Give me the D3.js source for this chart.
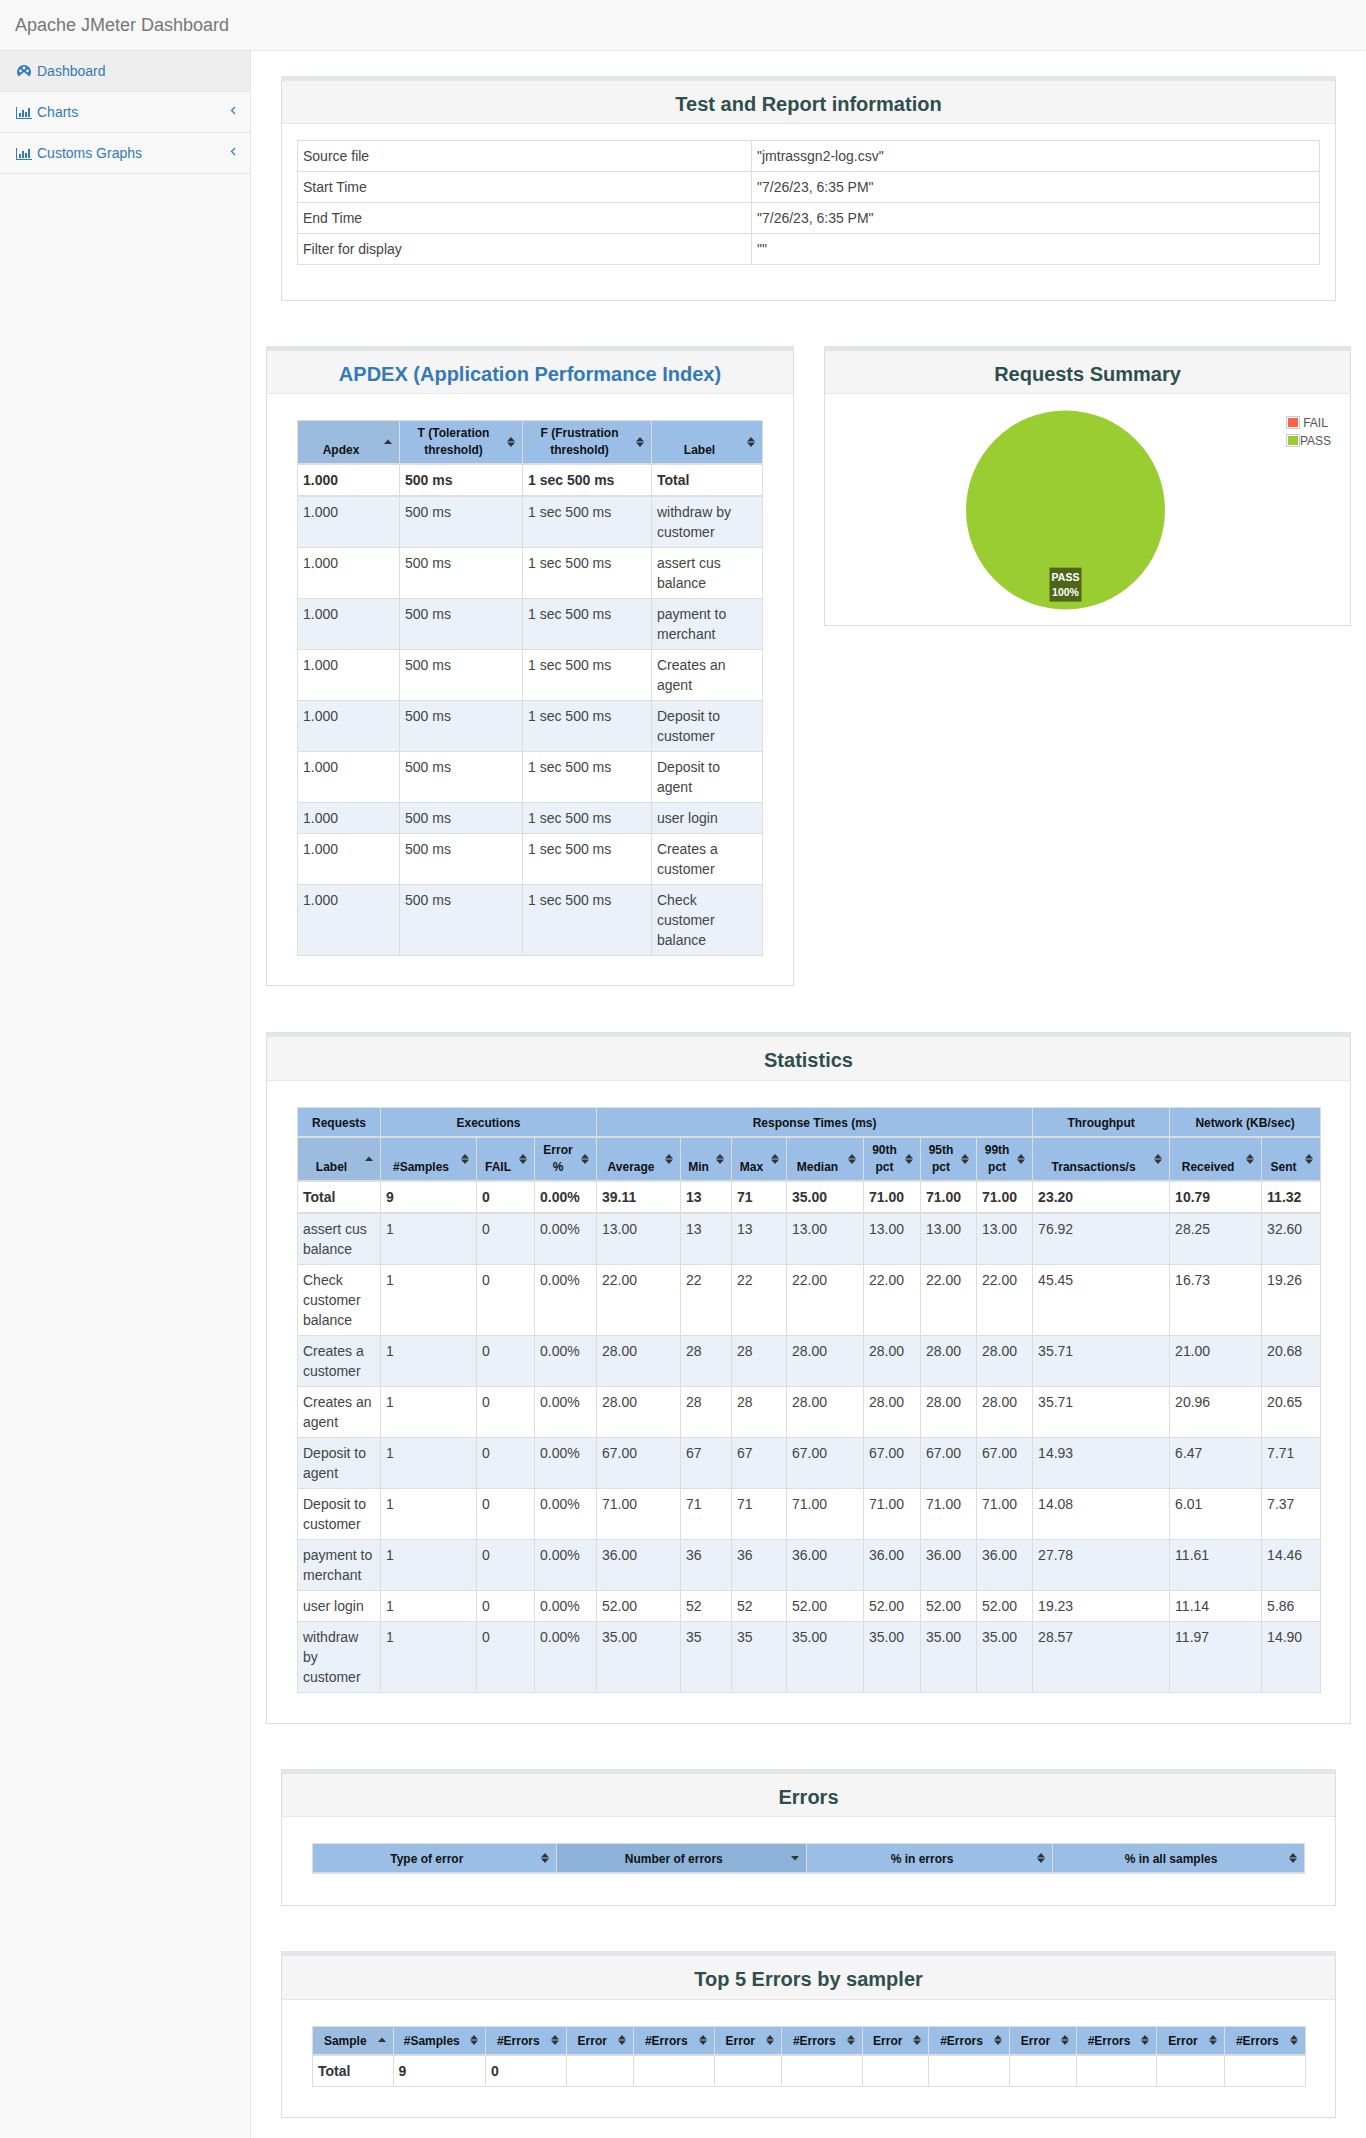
<!DOCTYPE html>
<html>
<head>
<meta charset="utf-8">
<title>Apache JMeter Dashboard</title>
<script src="https://cdn.jsdelivr.net/npm/d3@7"></script>
<style>
html, body { margin: 0; padding: 0; background: #fff; }
body { position: relative; width: 1366px; height: 2138px; overflow: hidden;
       font: 14px/20px "Liberation Sans", Arial, sans-serif; color: #444; }
.navbar { position: absolute; left: 0; top: 0; width: 1366px; height: 51px; box-sizing: border-box;
          background: #f8f8f8; border-bottom: 1px solid #e7e7e7; }
.brand { position: absolute; left: 15px; top: 15px; font-size: 18px; color: #777; }
.sidebar { position: absolute; left: 0; top: 51px; width: 251px; height: 2087px; box-sizing: border-box;
           background: #f8f8f8; border-right: 1px solid #e7e7e7; }
.nav-item { position: relative; height: 40px; border-bottom: 1px solid #e7e7e7; color: #337ab7; }
.nav-item.active { background: #eee; }
.nav-item span { position: absolute; left: 37px; top: 10px; }
.nav-item svg { position: absolute; left: 0; top: 0; }
.panel { position: absolute; box-sizing: border-box; background: #fff; border: 1px solid #ddd;
         border-top: 5px solid #e3e6e9; }
.panel h3 { margin: 0; box-sizing: border-box; background: #f5f5f5; border-bottom: 1px solid #e7e7e7;
            text-align: center; font-size: 20px; font-weight: bold; color: #2f4f4f; }
.panel h3.link { color: #337ab7; }
table { position: absolute; border-collapse: collapse; table-layout: fixed; }
td, th { border: 1px solid #ddd; padding: 5px; vertical-align: top; text-align: left; }
th { position: relative; font-size: 12px; line-height: 17px; color: #111; background: #9abee6;
     text-align: center; vertical-align: bottom; padding: 4px 20px 4px 5px; }
th.group { vertical-align: middle; padding: 7px 5px 3px 5px; border-bottom-width: 2px; }
th.single { vertical-align: middle; padding: 6px 20px 3px 5px; }
th.asc { background: #9cbcdf; }
th.desc { background: #8cb2da; }
thead tr:last-child th { border-bottom: 2px solid #ddd; }
th svg { position: absolute; right: 7px; top: 50%; margin-top: -5px; }
tr.total td { font-weight: bold; color: #333; }
tr.total.sep td { border-bottom: 2px solid #ddd; }
tr.odd td { background: #eaf1f9; }
</style>
</head>
<body>
<script>
// ---- data ----
var brandTitle = 'Apache JMeter Dashboard';
var navLabels = ['Dashboard', 'Charts', 'Customs Graphs'];

var infoKeys = ['Source file', 'Start Time', 'End Time', 'Filter for display'];
var infoValues = ['"jmtrassgn2-log.csv"', '"7/26/23, 6:35 PM"', '"7/26/23, 6:35 PM"', '""'];

var apdexHeaders = ['Apdex', 'T (Toleration threshold)', 'F (Frustration threshold)', 'Label'];
var apdexLabels = ['Total', 'withdraw by customer', 'assert cus balance', 'payment to merchant',
    'Creates an agent', 'Deposit to customer', 'Deposit to agent', 'user login',
    'Creates a customer', 'Check customer balance'];
var apdexScores = ['1.000', '1.000', '1.000', '1.000', '1.000', '1.000', '1.000', '1.000', '1.000', '1.000'];
var apdexTolerations = ['500 ms', '500 ms', '500 ms', '500 ms', '500 ms', '500 ms', '500 ms', '500 ms', '500 ms', '500 ms'];
var apdexFrustrations = ['1 sec 500 ms', '1 sec 500 ms', '1 sec 500 ms', '1 sec 500 ms', '1 sec 500 ms',
    '1 sec 500 ms', '1 sec 500 ms', '1 sec 500 ms', '1 sec 500 ms', '1 sec 500 ms'];

var summaryLabels = ['FAIL', 'PASS'];
var summaryValues = [0, 100];

var statGroups = ['Requests', 'Executions', 'Response Times (ms)', 'Throughput', 'Network (KB/sec)'];
var statGroupSpans = [1, 3, 7, 1, 2];
var statHeaders = ['Label', '#Samples', 'FAIL', 'Error %', 'Average', 'Min', 'Max', 'Median',
    '90th pct', '95th pct', '99th pct', 'Transactions/s', 'Received', 'Sent'];
var statLabels = ['Total', 'assert cus balance', 'Check customer balance', 'Creates a customer', 'Creates an agent',
    'Deposit to agent', 'Deposit to customer', 'payment to merchant', 'user login', 'withdraw by customer'];
var statSamples = ['9', '1', '1', '1', '1', '1', '1', '1', '1', '1'];
var statFails = ['0', '0', '0', '0', '0', '0', '0', '0', '0', '0'];
var statErrors = ['0.00%', '0.00%', '0.00%', '0.00%', '0.00%', '0.00%', '0.00%', '0.00%', '0.00%', '0.00%'];
var statAverage = ['39.11', '13.00', '22.00', '28.00', '28.00', '67.00', '71.00', '36.00', '52.00', '35.00'];
var statMin = ['13', '13', '22', '28', '28', '67', '71', '36', '52', '35'];
var statMax = ['71', '13', '22', '28', '28', '67', '71', '36', '52', '35'];
var statMedian = ['35.00', '13.00', '22.00', '28.00', '28.00', '67.00', '71.00', '36.00', '52.00', '35.00'];
var stat90 = ['71.00', '13.00', '22.00', '28.00', '28.00', '67.00', '71.00', '36.00', '52.00', '35.00'];
var stat95 = ['71.00', '13.00', '22.00', '28.00', '28.00', '67.00', '71.00', '36.00', '52.00', '35.00'];
var stat99 = ['71.00', '13.00', '22.00', '28.00', '28.00', '67.00', '71.00', '36.00', '52.00', '35.00'];
var statTransactions = ['23.20', '76.92', '45.45', '35.71', '35.71', '14.93', '14.08', '27.78', '19.23', '28.57'];
var statReceived = ['10.79', '28.25', '16.73', '21.00', '20.96', '6.47', '6.01', '11.61', '11.14', '11.97'];
var statSent = ['11.32', '32.60', '19.26', '20.68', '20.65', '7.71', '7.37', '14.46', '5.86', '14.90'];

var errorHeaders = ['Type of error', 'Number of errors', '% in errors', '% in all samples'];

var topHeaders = ['Sample', '#Samples', '#Errors', 'Error', '#Errors', 'Error', '#Errors', 'Error', '#Errors',
    'Error', '#Errors', 'Error', '#Errors'];
var topRow = ['Total', '9', '0', '', '', '', '', '', '', '', '', '', ''];

// ---- helpers ----
var body = d3.select('body');

function add_panel(box, title, heading_h, is_link) {
    var panel = body.append('div').attr('class', 'panel')
        .style('left', box.x + 'px').style('top', box.y + 'px')
        .style('width', box.w + 'px').style('height', box.h + 'px');
    panel.append('h3').classed('link', !!is_link).text(title)
        .style('height', heading_h + 'px').style('line-height', (heading_h + 3) + 'px');
    return panel;
}

function add_table(panel, x, y, widths) {
    var table = panel.append('table')
        .style('left', x + 'px').style('top', y + 'px')
        .style('width', d3.sum(widths) + 'px');
    table.append('colgroup').selectAll('col').data(widths).join('col')
        .style('width', function(d) { return d + 'px'; });
    return table;
}

function sort_icon(th, dir) {
    var svg = th.append('svg').attr('width', 8).attr('height', 10);
    var tri = 'M-4,2L0,-2.4L4,2Z';
    if (dir != 'desc') {
        svg.append('path').attr('d', tri).attr('fill', '#333')
            .attr('transform', dir == 'asc' ? 'translate(4,5)' : 'translate(4,2.4)');
    }
    if (dir != 'asc') {
        svg.append('path').attr('d', tri).attr('fill', '#333')
            .attr('transform', dir == 'desc' ? 'translate(4,5) rotate(180)' : 'translate(4,7.6) rotate(180)');
    }
}

function add_head_row(thead, headers, sorted, height, single) {
    var tr = thead.append('tr').style('height', height + 'px');
    tr.selectAll('th').data(headers).join('th').text(function(d) { return d; })
        .attr('class', function(d, i) {
            var c = i == sorted.col ? sorted.dir : '';
            return single ? c + ' single' : c;
        })
        .each(function(d, i) {
            sort_icon(d3.select(this), i == sorted.col ? sorted.dir : 'both');
        });
}

function add_rows(tbody, columns, total_sep) {
    var rows = d3.range(columns[0].length);
    tbody.selectAll('tr').data(rows).join('tr')
        .attr('class', function(r) {
            if (r == 0) return total_sep ? 'total sep' : 'total';
            return r % 2 == 1 ? 'odd' : null;
        })
        .selectAll('td').data(function(r) { return columns.map(function(c) { return c[r]; }); }).join('td')
        .text(function(d) { return d; });
}

// ---- navbar and sidebar ----
body.append('div').attr('class', 'navbar').append('div').attr('class', 'brand').text(brandTitle);

var sidebar = body.append('div').attr('class', 'sidebar');
sidebar.selectAll('.nav-item').data(navLabels).join('div')
    .attr('class', function(d, i) { return i == 0 ? 'nav-item active' : 'nav-item'; })
    .each(function(d, i) {
        var item = d3.select(this);
        item.append('span').text(d);
        var svg = item.append('svg').attr('width', 250).attr('height', 40);
        if (i == 0) {
            // dashboard gauge icon
            var g = svg.append('g').attr('transform', 'translate(24,21)').attr('fill', '#337ab7');
            g.append('path').attr('d', d3.arc().innerRadius(0).outerRadius(7).startAngle(-Math.PI * 0.72).endAngle(Math.PI * 0.72));
            g.append('circle').attr('r', 1.4).attr('fill', '#eee').attr('cx', -3.5).attr('cy', -1);
            g.append('circle').attr('r', 1.4).attr('fill', '#eee').attr('cx', 0).attr('cy', -4);
            g.append('circle').attr('r', 1.4).attr('fill', '#eee').attr('cx', 3.5).attr('cy', -1);
        } else {
            // bar chart icon
            var b = svg.append('g').attr('transform', 'translate(16,15)').attr('fill', '#337ab7');
            b.append('rect').attr('x', 0).attr('y', 0).attr('width', 1).attr('height', 12);
            b.append('rect').attr('x', 0).attr('y', 11).attr('width', 16).attr('height', 1);
            [[3, 6], [6, 3], [9, 5], [12, 1]].forEach(function(p) {
                b.append('rect').attr('x', p[0]).attr('y', p[1]).attr('width', 2).attr('height', 10 - p[1]);
            });
            svg.append('path').attr('d', 'M235,15L231.5,18.5L235,22').attr('fill', 'none')
                .attr('stroke', '#337ab7').attr('stroke-width', 1.2);
        }
    });

// ---- test and report information ----
var infoPanel = add_panel({x: 281, y: 76, w: 1055, h: 225}, 'Test and Report information', 43);
var infoTable = add_table(infoPanel, 15, 58.5, [454, 568]);
add_rows(infoTable.append('tbody'), [infoKeys, infoValues], false);
infoTable.selectAll('tr').attr('class', null);

// ---- apdex ----
var apdexPanel = add_panel({x: 266, y: 346, w: 528, h: 640}, 'APDEX (Application Performance Index)', 43, true);
var apdexTable = add_table(apdexPanel, 30, 68.5, [102, 123, 129, 111]);
add_head_row(apdexTable.append('thead'), apdexHeaders, {col: 0, dir: 'asc'}, 43);
add_rows(apdexTable.append('tbody'), [apdexScores, apdexTolerations, apdexFrustrations, apdexLabels], true);

// ---- requests summary ----
var summaryPanel = add_panel({x: 824, y: 346, w: 527, h: 280}, 'Requests Summary', 43);
var summaryW = 525, summaryH = 231;
var cx = 240.5, cy = 116, radius = 99.5;
var pieColor = d3.scaleOrdinal().domain(summaryLabels).range(['#ff6347', '#9acd32']);
var summarySvg = summaryPanel.append('svg').attr('width', summaryW).attr('height', summaryH)
    .style('position', 'absolute').style('left', 0).style('top', '43px')
    .style('font-family', '"Liberation Sans", Arial, sans-serif');
var pieData = d3.pie().sort(null)(summaryValues);
var arc = d3.arc().innerRadius(0).outerRadius(radius);
var labelArc = d3.arc().innerRadius(radius * 0.75).outerRadius(radius * 0.75);
var pieG = summarySvg.append('g').attr('transform', 'translate(' + cx + ',' + cy + ')');
pieG.selectAll('path').data(pieData).join('path')
    .attr('d', arc)
    .attr('fill', function(d, i) { return pieColor(summaryLabels[i]); });
pieData.forEach(function(d, i) {
    if (d.value == 0) return;
    var c = labelArc.centroid(d);
    var lab = pieG.append('g').attr('transform', 'translate(' + c[0] + ',' + c[1] + ')');
    lab.append('rect').attr('x', -16).attr('y', -17).attr('width', 32).attr('height', 34).attr('fill', '#4f6619');
    lab.append('text').attr('text-anchor', 'middle').attr('y', -4).attr('fill', '#fff')
        .style('font-size', '10.5px').style('font-weight', 'bold').text(summaryLabels[i]);
    lab.append('text').attr('text-anchor', 'middle').attr('y', 11).attr('fill', '#fff')
        .style('font-size', '10.5px').style('font-weight', 'bold').text(d3.format('.0f')(summaryValues[i]) + '%');
});
var legendY = d3.scaleBand().domain(summaryLabels).range([22, 56.2]).paddingInner(0.1);
var legend = summarySvg.append('g').selectAll('g').data(summaryLabels).join('g')
    .attr('transform', function(d) { return 'translate(461,' + legendY(d) + ')'; });
legend.append('rect').attr('x', 0.5).attr('y', 0.5).attr('width', 13).attr('height', 12)
    .attr('fill', '#fff').attr('stroke', '#ccc');
legend.append('rect').attr('x', 2).attr('y', 2).attr('width', 10).attr('height', 9)
    .attr('fill', function(d) { return pieColor(d); });
legend.append('text').attr('x', 29.5).attr('y', 11).attr('text-anchor', 'middle')
    .attr('fill', '#545454').style('font-size', '12px').text(function(d) { return d; });

// ---- statistics ----
var statPanel = add_panel({x: 266, y: 1032, w: 1085, h: 692}, 'Statistics', 44);
var statTable = add_table(statPanel, 30, 69.5, [83, 96, 58, 62, 84, 51, 55, 77, 57, 56, 56, 137, 92, 59]);
var statHead = statTable.append('thead');
statHead.append('tr').style('height', '30px').selectAll('th').data(statGroups).join('th')
    .attr('class', 'group')
    .attr('colspan', function(d, i) { return statGroupSpans[i]; })
    .text(function(d) { return d; });
add_head_row(statHead, statHeaders, {col: 0, dir: 'asc'}, 44);
add_rows(statTable.append('tbody'), [statLabels, statSamples, statFails, statErrors, statAverage, statMin, statMax,
    statMedian, stat90, stat95, stat99, statTransactions, statReceived, statSent], true);

// ---- errors ----
var errPanel = add_panel({x: 281, y: 1769, w: 1055, h: 137}, 'Errors', 43);
var errTable = add_table(errPanel, 30, 68.5, [243.5, 250.5, 246, 252]);
add_head_row(errTable.append('thead'), errorHeaders, {col: 1, dir: 'desc'}, 30, true);

// ---- top 5 errors ----
var topPanel = add_panel({x: 281, y: 1951, w: 1055, h: 167}, 'Top 5 Errors by sampler', 44);
var topTable = add_table(topPanel, 30, 69.5, [80.5, 92.5, 80.5, 67.5, 80.5, 67.5, 80.5, 66.5, 81, 67, 80, 68, 80.5]);
add_head_row(topTable.append('thead'), topHeaders, {col: 0, dir: 'asc'}, 29, true);
add_rows(topTable.append('tbody'), topRow.map(function(d) { return [d]; }), false);
</script>
</body>
</html>
